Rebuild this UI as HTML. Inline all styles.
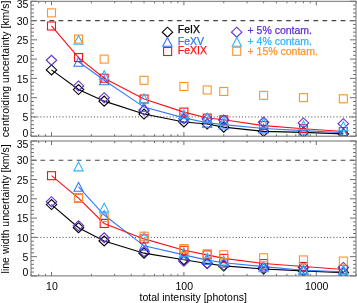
<!DOCTYPE html><html><head><meta charset="utf-8"><style>html,body{margin:0;padding:0;background:#fff;overflow:hidden}svg{display:block;will-change:transform}</style></head><body><svg width="357" height="303" viewBox="0 0 357 303">
<rect width="357" height="303" fill="#fff"/>
<defs><clipPath id="ct"><rect x="31" y="1.3" width="325" height="134.90"/></clipPath><clipPath id="cb"><rect x="31" y="141.0" width="325" height="134.90"/></clipPath></defs>
<g clip-path="url(#ct)" fill="none" stroke-width="1.1">
<line x1="31" y1="20.57" x2="356" y2="20.57" stroke="#4a424a" stroke-width="1.2" stroke-dasharray="4.7 4.4" stroke-dashoffset="-0.3"/>
<line x1="31" y1="116.93" x2="356" y2="116.93" stroke="#444" stroke-width="1" stroke-dasharray="1 2.15"/>
<polyline points="51.50,69.91 78.53,89.56 104.19,101.13 144.04,114.04 183.90,121.94 207.21,124.06 223.76,127.14 263.61,131.38 303.47,132.35 343.33,133.89" stroke="#000000"/>
<path d="M46.30 69.91L51.50 64.91L56.70 69.91L51.50 74.91Z" stroke="#000000"/>
<path d="M73.33 89.56L78.53 84.56L83.73 89.56L78.53 94.56Z" stroke="#000000"/>
<path d="M98.99 101.13L104.19 96.13L109.39 101.13L104.19 106.13Z" stroke="#000000"/>
<path d="M138.84 114.04L144.04 109.04L149.24 114.04L144.04 119.04Z" stroke="#000000"/>
<path d="M178.70 121.94L183.90 116.94L189.10 121.94L183.90 126.94Z" stroke="#000000"/>
<path d="M202.01 124.06L207.21 119.06L212.41 124.06L207.21 129.06Z" stroke="#000000"/>
<path d="M218.56 127.14L223.76 122.14L228.96 127.14L223.76 132.14Z" stroke="#000000"/>
<path d="M258.41 131.38L263.61 126.38L268.81 131.38L263.61 136.38Z" stroke="#000000"/>
<path d="M298.27 132.35L303.47 127.35L308.67 132.35L303.47 137.35Z" stroke="#000000"/>
<path d="M338.13 133.89L343.33 128.89L348.53 133.89L343.33 138.89Z" stroke="#000000"/>
<polyline points="78.53,61.81 104.19,80.31 144.04,107.10 183.90,117.89 207.21,122.71 223.76,124.64 263.61,128.49 303.47,130.61 343.33,132.73" stroke="#3478ff"/>
<path d="M73.93 66.21L78.53 57.41L83.13 66.21Z" stroke="#3478ff"/>
<path d="M99.59 84.71L104.19 75.91L108.79 84.71Z" stroke="#3478ff"/>
<path d="M139.44 111.50L144.04 102.70L148.64 111.50Z" stroke="#3478ff"/>
<path d="M179.30 122.29L183.90 113.49L188.50 122.29Z" stroke="#3478ff"/>
<path d="M202.61 127.11L207.21 118.31L211.81 127.11Z" stroke="#3478ff"/>
<path d="M219.16 129.04L223.76 120.24L228.36 129.04Z" stroke="#3478ff"/>
<path d="M259.01 132.89L263.61 124.09L268.21 132.89Z" stroke="#3478ff"/>
<path d="M298.87 135.01L303.47 126.21L308.07 135.01Z" stroke="#3478ff"/>
<path d="M338.73 137.13L343.33 128.33L347.93 137.13Z" stroke="#3478ff"/>
<polyline points="51.50,25.97 78.53,57.57 104.19,78.19 144.04,99.01 183.90,112.11 207.21,118.08 223.76,119.82 263.61,125.60 303.47,128.68 343.33,131.57" stroke="#ff1010"/>
<rect x="47.50" y="21.97" width="8.00" height="8.00" stroke="#ff1010"/>
<rect x="74.53" y="53.57" width="8.00" height="8.00" stroke="#ff1010"/>
<rect x="100.19" y="74.19" width="8.00" height="8.00" stroke="#ff1010"/>
<rect x="140.04" y="95.01" width="8.00" height="8.00" stroke="#ff1010"/>
<rect x="179.90" y="108.11" width="8.00" height="8.00" stroke="#ff1010"/>
<rect x="203.21" y="114.08" width="8.00" height="8.00" stroke="#ff1010"/>
<rect x="219.76" y="115.82" width="8.00" height="8.00" stroke="#ff1010"/>
<rect x="259.61" y="121.60" width="8.00" height="8.00" stroke="#ff1010"/>
<rect x="299.47" y="124.68" width="8.00" height="8.00" stroke="#ff1010"/>
<rect x="339.33" y="127.57" width="8.00" height="8.00" stroke="#ff1010"/>
<path d="M46.30 60.27L51.50 55.27L56.70 60.27L51.50 65.27Z" stroke="#6030d0"/>
<path d="M73.33 85.90L78.53 80.90L83.73 85.90L78.53 90.90Z" stroke="#6030d0"/>
<path d="M98.99 97.66L104.19 92.66L109.39 97.66L104.19 102.66Z" stroke="#6030d0"/>
<path d="M138.84 110.18L144.04 105.18L149.24 110.18L144.04 115.18Z" stroke="#6030d0"/>
<path d="M178.70 118.66L183.90 113.66L189.10 118.66L183.90 123.66Z" stroke="#6030d0"/>
<path d="M202.01 118.86L207.21 113.86L212.41 118.86L207.21 123.86Z" stroke="#6030d0"/>
<path d="M218.56 120.01L223.76 115.01L228.96 120.01L223.76 125.01Z" stroke="#6030d0"/>
<path d="M258.41 122.13L263.61 117.13L268.81 122.13L263.61 127.13Z" stroke="#6030d0"/>
<path d="M298.27 122.90L303.47 117.90L308.67 122.90L303.47 127.90Z" stroke="#6030d0"/>
<path d="M338.13 123.67L343.33 118.67L348.53 123.67L343.33 128.67Z" stroke="#6030d0"/>
<path d="M73.93 44.24L78.53 35.44L83.13 44.24Z" stroke="#30b4ff"/>
<path d="M99.59 79.51L104.19 70.71L108.79 79.51Z" stroke="#30b4ff"/>
<path d="M139.44 102.83L144.04 94.03L148.64 102.83Z" stroke="#30b4ff"/>
<path d="M179.30 118.82L183.90 110.02L188.50 118.82Z" stroke="#30b4ff"/>
<path d="M202.61 122.10L207.21 113.30L211.81 122.10Z" stroke="#30b4ff"/>
<path d="M219.16 125.38L223.76 116.58L228.36 125.38Z" stroke="#30b4ff"/>
<path d="M259.01 127.30L263.61 118.50L268.21 127.30Z" stroke="#30b4ff"/>
<path d="M298.87 129.81L303.47 121.01L308.07 129.81Z" stroke="#30b4ff"/>
<path d="M338.73 130.58L343.33 121.78L347.93 130.58Z" stroke="#30b4ff"/>
<rect x="47.50" y="8.86" width="8.00" height="8.00" stroke="#ff9428"/>
<rect x="74.53" y="35.07" width="8.00" height="8.00" stroke="#ff9428"/>
<rect x="100.19" y="55.11" width="8.00" height="8.00" stroke="#ff9428"/>
<rect x="140.04" y="76.31" width="8.00" height="8.00" stroke="#ff9428"/>
<rect x="179.90" y="82.48" width="8.00" height="8.00" stroke="#ff9428"/>
<rect x="203.21" y="85.95" width="8.00" height="8.00" stroke="#ff9428"/>
<rect x="219.76" y="87.49" width="8.00" height="8.00" stroke="#ff9428"/>
<rect x="259.61" y="91.34" width="8.00" height="8.00" stroke="#ff9428"/>
<rect x="299.47" y="93.66" width="8.00" height="8.00" stroke="#ff9428"/>
<rect x="339.33" y="94.81" width="8.00" height="8.00" stroke="#ff9428"/>
</g>
<g stroke="#707070" stroke-width="1" fill="none">
<rect x="31" y="1.3" width="325" height="134.90"/>
<path d="M31 136.20h6M356 136.20h-6M31 132.35h3M356 132.35h-3M31 128.49h3M356 128.49h-3M31 124.64h3M356 124.64h-3M31 120.78h3M356 120.78h-3M31 116.93h6M356 116.93h-6M31 113.07h3M356 113.07h-3M31 109.22h3M356 109.22h-3M31 105.37h3M356 105.37h-3M31 101.51h3M356 101.51h-3M31 97.66h6M356 97.66h-6M31 93.80h3M356 93.80h-3M31 89.95h3M356 89.95h-3M31 86.09h3M356 86.09h-3M31 82.24h3M356 82.24h-3M31 78.39h6M356 78.39h-6M31 74.53h3M356 74.53h-3M31 70.68h3M356 70.68h-3M31 66.82h3M356 66.82h-3M31 62.97h3M356 62.97h-3M31 59.11h6M356 59.11h-6M31 55.26h3M356 55.26h-3M31 51.41h3M356 51.41h-3M31 47.55h3M356 47.55h-3M31 43.70h3M356 43.70h-3M31 39.84h6M356 39.84h-6M31 35.99h3M356 35.99h-3M31 32.13h3M356 32.13h-3M31 28.28h3M356 28.28h-3M31 24.43h3M356 24.43h-3M31 20.57h6M356 20.57h-6M31 16.72h3M356 16.72h-3M31 12.86h3M356 12.86h-3M31 9.01h3M356 9.01h-3M31 5.15h3M356 5.15h-3M31 1.30h6M356 1.30h-6M30.99 136.20v-2M30.99 1.30v2M38.67 136.20v-2M38.67 1.30v2M45.44 136.20v-2M45.44 1.30v2M51.50 136.20v-4M51.50 1.30v4M91.36 136.20v-2M91.36 1.30v2M114.67 136.20v-2M114.67 1.30v2M131.21 136.20v-2M131.21 1.30v2M144.04 136.20v-2M144.04 1.30v2M154.53 136.20v-2M154.53 1.30v2M163.39 136.20v-2M163.39 1.30v2M171.07 136.20v-2M171.07 1.30v2M177.84 136.20v-2M177.84 1.30v2M183.90 136.20v-4M183.90 1.30v4M223.76 136.20v-2M223.76 1.30v2M247.07 136.20v-2M247.07 1.30v2M263.61 136.20v-2M263.61 1.30v2M276.44 136.20v-2M276.44 1.30v2M286.93 136.20v-2M286.93 1.30v2M295.79 136.20v-2M295.79 1.30v2M303.47 136.20v-2M303.47 1.30v2M310.24 136.20v-2M310.24 1.30v2M316.30 136.20v-4M316.30 1.30v4M356.16 136.20v-2M356.16 1.30v2"/>
</g>
<g font-family="Liberation Sans" font-size="10.5" text-anchor="end" fill="#000">
<text x="28.4" y="136.50">0</text>
<text x="28.4" y="121.13">5</text>
<text x="28.4" y="101.86">10</text>
<text x="28.4" y="82.59">15</text>
<text x="28.4" y="63.31">20</text>
<text x="28.4" y="44.04">25</text>
<text x="28.4" y="24.77">30</text>
<text x="28.4" y="8.30">35</text>
</g>
<g clip-path="url(#cb)" fill="none" stroke-width="1.1">
<line x1="31" y1="160.27" x2="356" y2="160.27" stroke="#4a424a" stroke-width="1.2" stroke-dasharray="4.7 4.4" stroke-dashoffset="-0.3"/>
<line x1="31" y1="237.36" x2="356" y2="237.36" stroke="#444" stroke-width="1" stroke-dasharray="1 2.15"/>
<polyline points="51.50,204.60 78.53,227.72 104.19,241.02 144.04,253.16 183.90,259.71 207.21,263.57 223.76,265.88 263.61,268.96 303.47,270.89 343.33,272.62" stroke="#000000"/>
<path d="M46.30 204.60L51.50 199.60L56.70 204.60L51.50 209.60Z" stroke="#000000"/>
<path d="M73.33 227.72L78.53 222.72L83.73 227.72L78.53 232.72Z" stroke="#000000"/>
<path d="M98.99 241.02L104.19 236.02L109.39 241.02L104.19 246.02Z" stroke="#000000"/>
<path d="M138.84 253.16L144.04 248.16L149.24 253.16L144.04 258.16Z" stroke="#000000"/>
<path d="M178.70 259.71L183.90 254.71L189.10 259.71L183.90 264.71Z" stroke="#000000"/>
<path d="M202.01 263.57L207.21 258.57L212.41 263.57L207.21 268.57Z" stroke="#000000"/>
<path d="M218.56 265.88L223.76 260.88L228.96 265.88L223.76 270.88Z" stroke="#000000"/>
<path d="M258.41 268.96L263.61 263.96L268.81 268.96L263.61 273.96Z" stroke="#000000"/>
<path d="M298.27 270.89L303.47 265.89L308.67 270.89L303.47 275.89Z" stroke="#000000"/>
<path d="M338.13 272.62L343.33 267.62L348.53 272.62L343.33 277.62Z" stroke="#000000"/>
<polyline points="78.53,186.87 104.19,215.00 144.04,245.84 183.90,254.89 207.21,260.10 223.76,262.80 263.61,266.65 303.47,270.31 343.33,271.85" stroke="#3478ff"/>
<path d="M73.93 191.27L78.53 182.47L83.13 191.27Z" stroke="#3478ff"/>
<path d="M99.59 219.40L104.19 210.60L108.79 219.40Z" stroke="#3478ff"/>
<path d="M139.44 250.24L144.04 241.44L148.64 250.24Z" stroke="#3478ff"/>
<path d="M179.30 259.29L183.90 250.49L188.50 259.29Z" stroke="#3478ff"/>
<path d="M202.61 264.50L207.21 255.70L211.81 264.50Z" stroke="#3478ff"/>
<path d="M219.16 267.20L223.76 258.40L228.36 267.20Z" stroke="#3478ff"/>
<path d="M259.01 271.05L263.61 262.25L268.21 271.05Z" stroke="#3478ff"/>
<path d="M298.87 274.71L303.47 265.91L308.07 274.71Z" stroke="#3478ff"/>
<path d="M338.73 276.25L343.33 267.45L347.93 276.25Z" stroke="#3478ff"/>
<polyline points="51.50,175.69 78.53,198.04 104.19,223.48 144.04,238.90 183.90,250.27 207.21,254.89 223.76,258.36 263.61,263.57 303.47,266.46 343.33,269.54" stroke="#ff1010"/>
<rect x="47.50" y="171.69" width="8.00" height="8.00" stroke="#ff1010"/>
<rect x="74.53" y="194.04" width="8.00" height="8.00" stroke="#ff1010"/>
<rect x="100.19" y="219.48" width="8.00" height="8.00" stroke="#ff1010"/>
<rect x="140.04" y="234.90" width="8.00" height="8.00" stroke="#ff1010"/>
<rect x="179.90" y="246.27" width="8.00" height="8.00" stroke="#ff1010"/>
<rect x="203.21" y="250.89" width="8.00" height="8.00" stroke="#ff1010"/>
<rect x="219.76" y="254.36" width="8.00" height="8.00" stroke="#ff1010"/>
<rect x="259.61" y="259.57" width="8.00" height="8.00" stroke="#ff1010"/>
<rect x="299.47" y="262.46" width="8.00" height="8.00" stroke="#ff1010"/>
<rect x="339.33" y="265.54" width="8.00" height="8.00" stroke="#ff1010"/>
<path d="M46.30 201.70L51.50 196.70L56.70 201.70L51.50 206.70Z" stroke="#6030d0"/>
<path d="M73.33 225.79L78.53 220.79L83.73 225.79L78.53 230.79Z" stroke="#6030d0"/>
<path d="M98.99 237.74L104.19 232.74L109.39 237.74L104.19 242.74Z" stroke="#6030d0"/>
<path d="M138.84 251.62L144.04 246.62L149.24 251.62L144.04 256.62Z" stroke="#6030d0"/>
<path d="M178.70 261.25L183.90 256.25L189.10 261.25L183.90 266.25Z" stroke="#6030d0"/>
<path d="M202.01 263.37L207.21 258.37L212.41 263.37L207.21 268.37Z" stroke="#6030d0"/>
<path d="M218.56 265.30L223.76 260.30L228.96 265.30L223.76 270.30Z" stroke="#6030d0"/>
<path d="M258.41 267.42L263.61 262.42L268.81 267.42L263.61 272.42Z" stroke="#6030d0"/>
<path d="M298.27 267.42L303.47 262.42L308.67 267.42L303.47 272.42Z" stroke="#6030d0"/>
<path d="M338.13 267.42L343.33 262.42L348.53 267.42L343.33 272.42Z" stroke="#6030d0"/>
<path d="M73.93 170.84L78.53 162.04L83.13 170.84Z" stroke="#30b4ff"/>
<path d="M99.59 212.08L104.19 203.28L108.79 212.08Z" stroke="#30b4ff"/>
<path d="M139.44 240.79L144.04 231.99L148.64 240.79Z" stroke="#30b4ff"/>
<path d="M179.30 256.79L183.90 247.99L188.50 256.79Z" stroke="#30b4ff"/>
<path d="M202.61 261.99L207.21 253.19L211.81 261.99Z" stroke="#30b4ff"/>
<path d="M219.16 265.08L223.76 256.28L228.36 265.08Z" stroke="#30b4ff"/>
<path d="M259.01 271.82L263.61 263.02L268.21 271.82Z" stroke="#30b4ff"/>
<path d="M298.87 273.36L303.47 264.56L308.07 273.36Z" stroke="#30b4ff"/>
<path d="M338.73 274.13L343.33 265.33L347.93 274.13Z" stroke="#30b4ff"/>
<rect x="74.53" y="193.66" width="8.00" height="8.00" stroke="#ff9428"/>
<rect x="100.19" y="213.51" width="8.00" height="8.00" stroke="#ff9428"/>
<rect x="140.04" y="232.20" width="8.00" height="8.00" stroke="#ff9428"/>
<rect x="179.90" y="244.53" width="8.00" height="8.00" stroke="#ff9428"/>
<rect x="203.21" y="249.74" width="8.00" height="8.00" stroke="#ff9428"/>
<rect x="219.76" y="250.70" width="8.00" height="8.00" stroke="#ff9428"/>
<rect x="259.61" y="253.78" width="8.00" height="8.00" stroke="#ff9428"/>
<rect x="299.47" y="255.90" width="8.00" height="8.00" stroke="#ff9428"/>
<rect x="339.33" y="257.06" width="8.00" height="8.00" stroke="#ff9428"/>
</g>
<g stroke="#707070" stroke-width="1" fill="none">
<rect x="31" y="141.0" width="325" height="134.90"/>
<path d="M31 275.90h6M356 275.90h-6M31 272.05h3M356 272.05h-3M31 268.19h3M356 268.19h-3M31 264.34h3M356 264.34h-3M31 260.48h3M356 260.48h-3M31 256.63h6M356 256.63h-6M31 252.77h3M356 252.77h-3M31 248.92h3M356 248.92h-3M31 245.07h3M356 245.07h-3M31 241.21h3M356 241.21h-3M31 237.36h6M356 237.36h-6M31 233.50h3M356 233.50h-3M31 229.65h3M356 229.65h-3M31 225.79h3M356 225.79h-3M31 221.94h3M356 221.94h-3M31 218.09h6M356 218.09h-6M31 214.23h3M356 214.23h-3M31 210.38h3M356 210.38h-3M31 206.52h3M356 206.52h-3M31 202.67h3M356 202.67h-3M31 198.81h6M356 198.81h-6M31 194.96h3M356 194.96h-3M31 191.11h3M356 191.11h-3M31 187.25h3M356 187.25h-3M31 183.40h3M356 183.40h-3M31 179.54h6M356 179.54h-6M31 175.69h3M356 175.69h-3M31 171.83h3M356 171.83h-3M31 167.98h3M356 167.98h-3M31 164.13h3M356 164.13h-3M31 160.27h6M356 160.27h-6M31 156.42h3M356 156.42h-3M31 152.56h3M356 152.56h-3M31 148.71h3M356 148.71h-3M31 144.85h3M356 144.85h-3M31 141.00h6M356 141.00h-6M30.99 275.90v-2M30.99 141.00v2M38.67 275.90v-2M38.67 141.00v2M45.44 275.90v-2M45.44 141.00v2M51.50 275.90v-4M51.50 141.00v4M91.36 275.90v-2M91.36 141.00v2M114.67 275.90v-2M114.67 141.00v2M131.21 275.90v-2M131.21 141.00v2M144.04 275.90v-2M144.04 141.00v2M154.53 275.90v-2M154.53 141.00v2M163.39 275.90v-2M163.39 141.00v2M171.07 275.90v-2M171.07 141.00v2M177.84 275.90v-2M177.84 141.00v2M183.90 275.90v-4M183.90 141.00v4M223.76 275.90v-2M223.76 141.00v2M247.07 275.90v-2M247.07 141.00v2M263.61 275.90v-2M263.61 141.00v2M276.44 275.90v-2M276.44 141.00v2M286.93 275.90v-2M286.93 141.00v2M295.79 275.90v-2M295.79 141.00v2M303.47 275.90v-2M303.47 141.00v2M310.24 275.90v-2M310.24 141.00v2M316.30 275.90v-4M316.30 141.00v4M356.16 275.90v-2M356.16 141.00v2"/>
</g>
<g font-family="Liberation Sans" font-size="10.5" text-anchor="end" fill="#000">
<text x="28.4" y="276.20">0</text>
<text x="28.4" y="260.83">5</text>
<text x="28.4" y="241.56">10</text>
<text x="28.4" y="222.29">15</text>
<text x="28.4" y="203.01">20</text>
<text x="28.4" y="183.74">25</text>
<text x="28.4" y="164.47">30</text>
<text x="28.4" y="148.00">35</text>
</g>
<g font-family="Liberation Sans" font-size="10.5" text-anchor="middle" fill="#000">
<text x="51.90" y="289.5">10</text>
<text x="184.30" y="289.5">100</text>
<text x="316.70" y="289.5">1000</text>
<text x="193.2" y="300.5">total intensity [photons]</text>
<text transform="translate(8.5 68.9) rotate(-90)">centroiding uncertainty [km/s]</text>
<text transform="translate(8.5 208.9) rotate(-90)">line width uncertainty [km/s]</text>
</g>
<g fill="none" stroke-width="1.1">
<path d="M162.30 32.20L167.50 27.20L172.70 32.20L167.50 37.20Z" stroke="#000000"/>
<path d="M162.80 46.20L167.40 37.40L172.00 46.20Z" stroke="#3478ff"/>
<rect x="163.60" y="47.50" width="8.00" height="8.00" stroke="#ff1010"/>
<path d="M231.50 32.20L236.70 27.20L241.90 32.20L236.70 37.20Z" stroke="#6030d0"/>
<path d="M232.20 46.20L236.80 37.40L241.40 46.20Z" stroke="#30b4ff"/>
<rect x="232.70" y="47.30" width="8.00" height="8.00" stroke="#ff9428"/>
</g>
<g font-family="Liberation Sans" font-size="10.5" stroke-width="0.25">
<text x="177.8" y="33.4" fill="#000000" stroke="#000000">FeIX</text>
<text x="177.8" y="45.1" fill="#3478ff" stroke="#3478ff">FeXV</text>
<text x="177.8" y="54.2" fill="#ff1010" stroke="#ff1010">FeXIX</text>
<text x="247.5" y="34.0" fill="#6030d0" stroke="#6030d0">+ 5% contam.</text>
<text x="247.5" y="45.3" fill="#30b4ff" stroke="#30b4ff">+ 4% contam.</text>
<text x="247.5" y="54.5" fill="#ff9428" stroke="#ff9428">+ 15% contam.</text>
</g>
</svg></body></html>
